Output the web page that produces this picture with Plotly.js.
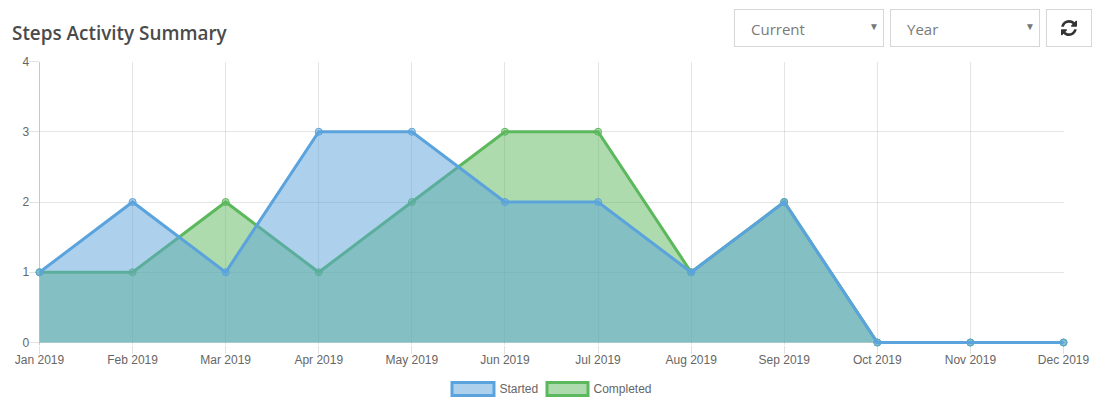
<!DOCTYPE html>
<html><head><meta charset="utf-8">
<script src="https://cdn.plot.ly/plotly-3.0.1.min.js"></script>
<style>
html,body{margin:0;padding:0;background:#fff;width:1104px;height:401px;overflow:hidden}
#chart{position:absolute;left:0;top:0;width:1104px;height:401px;transform:translate(0.5px,0.5px)}
.ctl{position:absolute;top:9px;height:36px;border:1px solid #d6d6d6;background:#fff;font:15px "Open Sans",sans-serif;color:#7a7a7a;line-height:38px;box-sizing:content-box}
.ctl span.t{position:absolute;left:16px;top:0}
.ctl span.a{position:absolute;right:4px;top:-2px;font-size:10px;color:#777;line-height:36px}
</style></head><body>
<div id="chart"></div>
<div class="ctl" style="left:734px;width:148px"><span class="t">Current</span><span class="a">▼</span></div>
<div class="ctl" style="left:890px;width:148px"><span class="t">Year</span><span class="a">▼</span></div>
<div class="ctl" style="left:1046px;width:44px">
<svg width="16" height="16" viewBox="0 0 1536 1536" style="position:absolute;left:14px;top:10px"><path fill="#333" d="M1511 928q0 5-1 7-64 268-268 434.500t-478 166.500q-146 0-282.500-55t-243.500-157l-129 129q-19 19-45 19t-45-19-19-45v-448q0-26 19-45t45-19h448q26 0 45 19t19 45-19 45l-137 137q71 66 161 102t187 36q134 0 250-65t186-179q11-17 53-117 8-23 30-23h192q13 0 22.500 9.500t9.500 22.500zm25-800v448q0 26-19 45t-45 19h-448q-26 0-45-19t-19-45 19-45l138-138q-148-137-349-137-134 0-250 65t-186 179q-11 17-53 117-8 23-30 23h-199q-13 0-22.500-9.500t-9.500-22.500v-7q65-268 270-434.500t480-166.500q146 0 284 55.500t245 156.500l130-129q19-19 45-19t45 19 19 45z"/></svg>
</div>
<script>
const months = ["Jan 2019","Feb 2019","Mar 2019","Apr 2019","May 2019","Jun 2019","Jul 2019","Aug 2019","Sep 2019","Oct 2019","Nov 2019","Dec 2019"];
const started = [1,2,1,3,3,2,2,1,2,0,0,0];
const completed = [1,1,2,1,2,3,3,1,2,0,0,0];
const yTicks = [0,1,2,3,4];
const blue = "rgb(91,163,220)", blueFill = "rgba(91,163,220,0.5)";
const green = "rgb(92,184,92)", greenFill = "rgba(92,184,92,0.5)";
const W = 1104, H = 401;
const L = 39, R = 41, T = 61, B = 57;
const PW = W-L-R, PH = H-T-B, base = H-B;
const yMin = -2/70.25;
const mk = (name,y,c,f) => ({type:"scatter",mode:"lines+markers",name,x:months,y,fill:"tozeroy",fillcolor:f,
  line:{color:c,width:3,shape:"linear"},marker:{color:f,size:7,line:{color:c,width:1}},cliponaxis:false});
const swatch = (x0,x1,c,f) => ({type:"rect",xref:"paper",yref:"paper",
  x0:(x0-L)/PW,x1:(x1-L)/PW,y0:-(395-base)/PH,y1:-(382-base)/PH,line:{color:c,width:3},fillcolor:f});
const label = (x,text) => ({xref:"paper",yref:"paper",x:(x-L)/PW,y:-(387.5-base)/PH,xanchor:"left",yanchor:"middle",
  text,showarrow:false,font:{family:"Liberation Sans, Arial, sans-serif",size:12,color:"#666"}});
const tf = {family:"Liberation Sans, Arial, sans-serif",size:12,color:"#666"};
Plotly.newPlot("chart",[mk("Completed",completed,green,greenFill),mk("Started",started,blue,blueFill)],{
  width:W,height:H,margin:{l:L,r:R,t:T,b:B,pad:0},paper_bgcolor:"#fff",plot_bgcolor:"#fff",showlegend:false,
  title:{text:"Steps Activity Summary",x:11.5/W,xanchor:"left",y:1-33/H,yanchor:"middle",
    font:{family:"Open Sans, sans-serif",size:18.9,color:"#4a4a4a",weight:600}},
  xaxis:{type:"category",range:[0,11],tickmode:"array",tickvals:months,ticktext:months,ticks:"outside",ticklen:8,tickcolor:"#e2e2e2",tickwidth:1,
    gridcolor:"rgba(0,0,0,0.1)",gridwidth:1,showline:false,zeroline:false,layer:"below traces",
    ticklabelstandoff:-4,tickfont:tf,tickangle:0},
  yaxis:{range:[yMin,4],tickvals:yTicks,ticks:"outside",ticklen:10,tickcolor:"#e2e2e2",tickwidth:1,
    gridcolor:"rgba(0,0,0,0.1)",gridwidth:1,showline:true,linecolor:"#c8c8c8",linewidth:1,zeroline:false,layer:"below traces",
    ticklabelstandoff:-3,tickfont:tf},
  shapes:[swatch(451.5,493.5,blue,blueFill),swatch(546.5,587.5,green,greenFill)],
  annotations:[label(496.5,"Started"),label(591,"Completed")]
},{displayModeBar:false,staticPlot:true});
</script></body></html>
